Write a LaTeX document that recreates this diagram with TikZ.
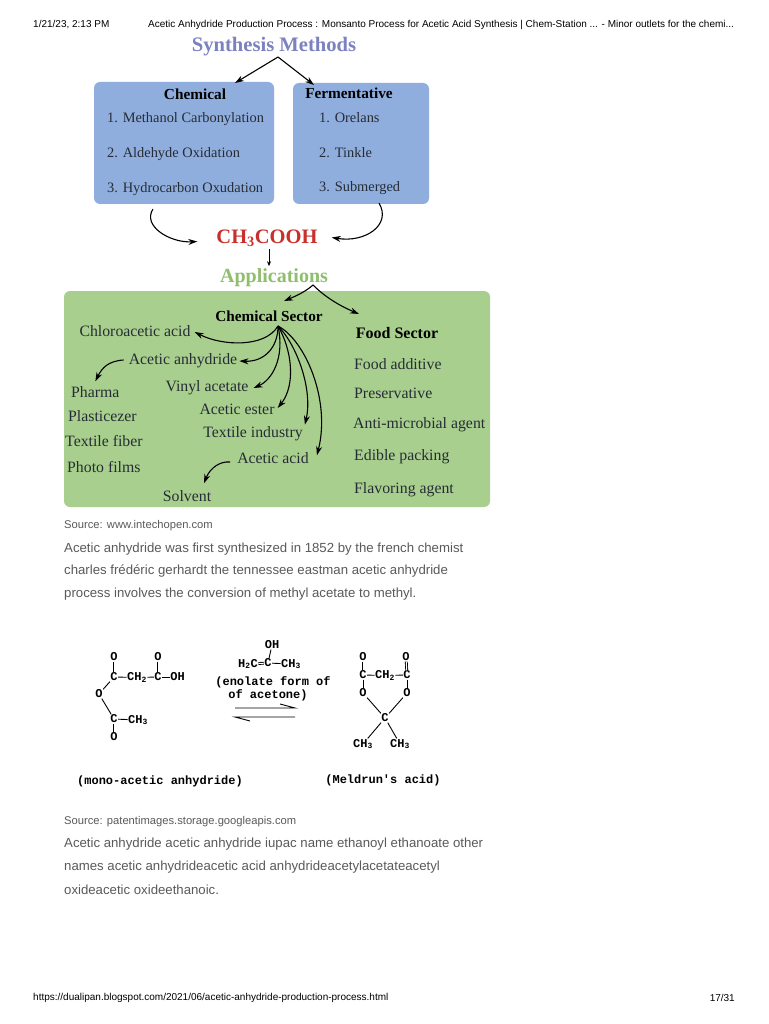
\documentclass[tikz,border=0pt]{standalone}
\usepackage{fontspec}
\setmainfont{Liberation Serif}
\setsansfont{Liberation Sans}
\setmonofont{Liberation Mono}
\usetikzlibrary{arrows.meta,calc}
\definecolor{boxblue}{HTML}{8FAEDD}
\definecolor{boxgreen}{HTML}{A9CF8E}
\definecolor{titleblue}{HTML}{7C82C0}
\definecolor{ccred}{HTML}{C9302A}
\definecolor{appgreen}{HTML}{8FBE6C}
\definecolor{inkdark}{HTML}{262C36}
\definecolor{grayt}{HTML}{5A5A5A}
\tikzset{
 blk/.style={-{Stealth[length=9pt,width=6pt]},line width=1.1pt,black},
 lbl/.style={font=\rmfamily\fontsize{15.8}{17}\selectfont,text=inkdark,inner sep=2pt},
 lbll/.style={lbl,anchor=west},
 itm/.style={lbll,font=\rmfamily\fontsize{14.4}{16}\selectfont,yshift=-1pt},
 hdb/.style={font=\rmfamily\bfseries\fontsize{15.3}{17}\selectfont,text=black,inner sep=2pt},
 web/.style={font=\sffamily\fontsize{10}{12}\selectfont,text=black,anchor=west,inner sep=0pt,yshift=-1pt},
 src/.style={font=\sffamily\fontsize{11.2}{13}\selectfont,text=grayt,anchor=west,inner sep=0pt,yshift=-1.8pt},
 para/.style={font=\sffamily\fontsize{13.2}{15}\selectfont,text=grayt,anchor=west,inner sep=0pt,yshift=-1pt},
 atom/.style={font=\ttfamily\bfseries\fontsize{12}{14}\selectfont,text=black,inner sep=0.4pt},
 tt/.style={font=\ttfamily\bfseries\fontsize{12}{14}\selectfont,text=black,inner sep=0pt},
 bond/.style={line width=0.9pt,black},
}
\begin{document}
\begin{tikzpicture}[x=1pt,y=-1pt]
\useasboundingbox[fill=white] (0,0) rectangle (768,1024);
% header / footer
\node[web] (hdate) at (33,24) {1/21/23, 2:13 PM};
\node[web] (htitle) at (148,24) {Acetic Anhydride Production Process : Monsanto Process for Acetic Acid Synthesis | Chem-Station ... - Minor outlets for the chemi...};
\node[web] (furl) at (33,997) {https://dualipan.blogspot.com/2021/06/acetic-anhydride-production-process.html};
\node[web,anchor=east] (fpage) at (735,997) {17/31};
% boxes
\fill[boxblue,rounded corners=6pt] (94,82) rectangle (274,204);
\fill[boxblue,rounded corners=6pt] (293,83) rectangle (429,204);
\fill[boxgreen,rounded corners=6pt] (64,291) rectangle (490,507);
% top
\node[font=\rmfamily\bfseries\fontsize{20.6}{22}\selectfont,text=titleblue,inner sep=2pt] (title) at (274,46.5) {Synthesis Methods};
\coordinate (apex) at (278,57);
\coordinate (chemtop) at (235,83);
\coordinate (fermtop) at (314,85);
\draw[blk] (apex) -- (chemtop);
\draw[blk] (apex) -- (fermtop);
\node[hdb] (chem) at (195,94) {Chemical};
\node[hdb] (ferm) at (349,93) {Fermentative};
\node[itm] (m1) at (105,118) {1. Methanol Carbonylation};
\node[itm] (m2) at (105,153) {2. Aldehyde Oxidation};
\node[itm] (m3) at (105,188) {3. Hydrocarbon Oxudation};
\node[itm] (f1) at (317,117) {1. Orelans};
\node[itm] (f2) at (317,152) {2. Tinkle};
\node[itm] (f3) at (317,187) {3. Submerged};
\node[font=\rmfamily\bfseries\fontsize{20.5}{22}\selectfont,text=ccred,inner sep=2pt] (cc) at (267,238.5) {CH\textsubscript{3}COOH};
\node[font=\rmfamily\bfseries\fontsize{20}{22}\selectfont,text=appgreen,inner sep=2pt] (app) at (274,277.5) {Applications};
\coordinate (lstart) at (153,209);
\coordinate (rstart) at (379,203);
\draw[blk] (lstart) .. controls (142,226) and (170,243) .. ($(cc.west)+(-17,3)$);
\draw[blk] (rstart) .. controls (392,225) and (365,243) .. ($(cc.east)+(12,-1)$);
\draw[-{Stealth[length=5pt,width=4pt]},line width=0.9pt] (cc.south -| 269,0) -- (app.north -| 269,0);
% applications
\coordinate (appapex) at (313,285);
\node[hdb] (cs) at (269,316) {Chemical Sector};
\node[hdb,font=\rmfamily\bfseries\fontsize{16}{18}\selectfont] (fs) at (397,333) {Food Sector};
\draw[blk] (appapex) .. controls (305,292) and (296,296) .. (284,301);
\draw[blk] (appapex) .. controls (325,297) and (340,306) .. (359,314);
\coordinate (hub) at (278,326);
\node[lbl] (chloro) at (135,331) {Chloroacetic acid};
\node[lbl] (anh) at (183,361) {Acetic anhydride};
\node[lbl] (vinyl) at (207,388) {Vinyl acetate};
\node[lbl] (ester) at (237,409) {Acetic ester};
\node[lbl] (texi) at (253,434) {Textile industry};
\node[lbl] (acid) at (273,458) {Acetic acid};
\node[lbl] (solv) at (187,496) {Solvent};
\node[lbll] (ph) at (69,392) {Pharma};
\node[lbll] (pl) at (66,416) {Plasticezer};
\node[lbll] (tf) at (63,441) {Textile fiber};
\node[lbll] (pf) at (65,467) {Photo films};
\draw[blk] (hub) .. controls (265,348) and (222,346) .. ($(chloro.east)+(2,1)$);
\draw[blk] (hub) .. controls (278,348) and (264,362) .. (anh.east);
\draw[blk] (hub) .. controls (285,358) and (272,380) .. ($(vinyl.east)+(3,0)$);
\draw[blk] (hub) .. controls (292,350) and (296,385) .. ($(ester.east)+(1,-1)$);
\draw[blk] (hub) .. controls (297,345) and (313,390) .. (texi.north east);
\draw[blk] (hub) .. controls (305,340) and (331,400) .. ($(acid.north east)+(6,5)$);
\draw[blk] ($(anh.west)+(-3,-1)$) .. controls (108,361) and (102,368) .. ($(ph.north)+(0,-3)$);
\draw[blk] ($(acid.west)+(-5,4)$) .. controls (220,461) and (210,468) .. ($(solv.north)+(17,-5)$);
\node[lbll] (ff1) at (352,364) {Food additive};
\node[lbll] (ff2) at (352,393) {Preservative};
\node[lbll] (ff3) at (351,425) {Anti-microbial agent};
\node[lbll] (ff4) at (352,457) {Edible packing};
\node[lbll] (ff5) at (352,490) {Flavoring agent};
% text
\node[src] (s1) at (64,524) {Source: www.intechopen.com};
\node[para] (p1) at (64,548) {Acetic anhydride was first synthesized in 1852 by the french chemist};
\node[para] (p2) at (64,570) {charles frédéric gerhardt the tennessee eastman acetic anhydride};
\node[para] (p3) at (64,593) {process involves the conversion of methyl acetate to methyl.};
\node[src] (s2) at (64,820) {Source: patentimages.storage.googleapis.com};
\node[para] (q1) at (64,843) {Acetic anhydride acetic anhydride iupac name ethanoyl ethanoate other};
\node[para] (q2) at (64,866) {names acetic anhydrideacetic acid anhydrideacetylacetateacetyl};
\node[para] (q3) at (64,889) {oxideacetic oxideethanoic.};
% mono-acetic anhydride
\node[atom] (a1) at (114,657) {O};
\node[atom] (a2) at (114,677) {C};
\node[atom] (a3) at (137,677.5) {CH\textsubscript{2}};
\node[atom] (a4) at (158,677) {C};
\node[atom] (a5) at (158,657) {O};
\node[atom] (a6) at (177.5,677) {OH};
\node[atom] (a7) at (99,694) {O};
\node[atom] (a8) at (114,719) {C};
\node[atom] (a9) at (138,720) {CH\textsubscript{3}};
\node[atom] (a10) at (114,737) {O};
\draw[bond,double,double distance=1pt] (a1) -- (a2);
\draw[bond,double,double distance=1pt] (a5) -- (a4);
\draw[bond,double,double distance=1pt] (a8) -- (a10);
\draw[bond] (a2) -- (a3);
\draw[bond] (a3) -- (a4);
\draw[bond] (a4) -- (a6);
\draw[bond] (a2) -- (a7);
\draw[bond] (a7) -- (a8);
\draw[bond] (a8) -- (a9);
% enolate
\node[atom] (e1) at (272,645) {OH};
\node[atom] (e2) at (248,664) {H\textsubscript{2}C};
\node[atom] (e3) at (268,663) {C};
\node[atom] (e4) at (291,664) {CH\textsubscript{3}};
\draw[bond] (e1) -- (e3);
\draw[bond,double,double distance=1pt] (e2) -- (e3);
\draw[bond] (e3) -- (e4);
\node[tt] (e5) at (273,682) {(enolate form of};
\node[tt] (e6) at (268,695) {of acetone)};
\coordinate (t1) at (235,708);
\coordinate (t2) at (295,708);
\coordinate (t3) at (295,717);
\coordinate (t4) at (235,717);
\draw[bond] (t1) -- (t2) -- (280,704);
\draw[bond] (t3) -- (t4) -- (250,721);
% Meldrum
\node[atom] (n1) at (363,657) {O};
\node[atom] (n2) at (406,657) {O};
\node[atom] (n3) at (363,675) {C};
\node[atom] (n4) at (385,675.5) {CH\textsubscript{2}};
\node[atom] (n5) at (407,675) {C};
\node[atom] (n6) at (363,693) {O};
\node[atom] (n7) at (407,693) {O};
\node[atom] (n8) at (385,718) {C};
\node[atom] (n9) at (363,744) {CH\textsubscript{3}};
\node[atom] (n10) at (400,744) {CH\textsubscript{3}};
\draw[bond,double,double distance=1pt] (n1) -- (n3);
\draw[bond,double,double distance=1pt] (n2) -- (n5);
\draw[bond] (n3) -- (n4);
\draw[bond] (n4) -- (n5);
\draw[bond] (n3) -- (n6);
\draw[bond] (n5) -- (n7);
\draw[bond] (n6) -- (n8);
\draw[bond] (n7) -- (n8);
\draw[bond] (n8) -- (n9);
\draw[bond] (n8) -- (n10);
\node[tt] (l1) at (160,781) {(mono-acetic anhydride)};
\node[tt] (l2) at (383,780) {(Meldrun's acid)};
\end{tikzpicture}
\end{document}
